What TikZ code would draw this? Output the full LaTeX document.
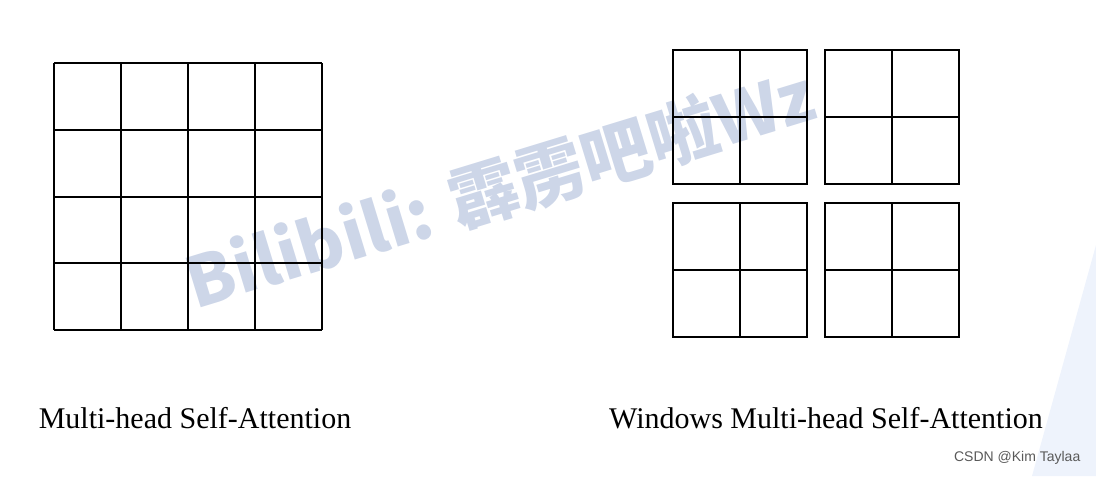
\documentclass[tikz,border=0pt]{standalone}
\usepackage{fontspec}
\setmainfont{Liberation Serif}
\newfontfamily\cjkfont{Noto Sans CJK SC}
\newfontfamily\sansfont{Liberation Sans}
\definecolor{wmcol}{RGB}{205,214,232}
\definecolor{tricol}{RGB}{238,243,252}
\begin{document}
\begin{tikzpicture}[x=0.75pt,y=-0.75pt,
  gridline/.style={line width=1.5pt,black},
  lbl/.style={font=\fontsize{22.5}{26}\selectfont}]
\useasboundingbox (0,0) rectangle (1096,476);
\fill[tricol] (1096,245) -- (1096,476) -- (1032,476) -- cycle;
% watermark
\node[rotate=17,text=wmcol,font=\cjkfont\bfseries\fontsize{52}{56}\selectfont] (wm) at (500,188) {Bilibili: 霹雳吧啦Wz};
% left grid
\foreach \i in {0,...,4}{
  \draw[gridline] (54+67*\i,63) -- (54+67*\i,330);
  \draw[gridline] (54,63+66.75*\i) -- (322,63+66.75*\i);
}
% windows
\foreach \x/\y in {673/50,825/50,673/203,825/203}{
  \draw[gridline] (\x,\y) rectangle ++(134,134);
  \draw[gridline] (\x+67,\y) -- ++(0,134);
  \draw[gridline] (\x,\y+67) -- ++(134,0);
}
\node[lbl] (l1) at (195,418) {Multi-head Self-Attention};
\node[lbl] (l2) at (826,418) {Windows Multi-head Self-Attention};
\node[font=\sansfont\fontsize{10.5}{12}\selectfont,text=gray!70!black,anchor=east] (csdn) at (1085,458) {CSDN @Kim Taylaa};
\end{tikzpicture}
\end{document}
